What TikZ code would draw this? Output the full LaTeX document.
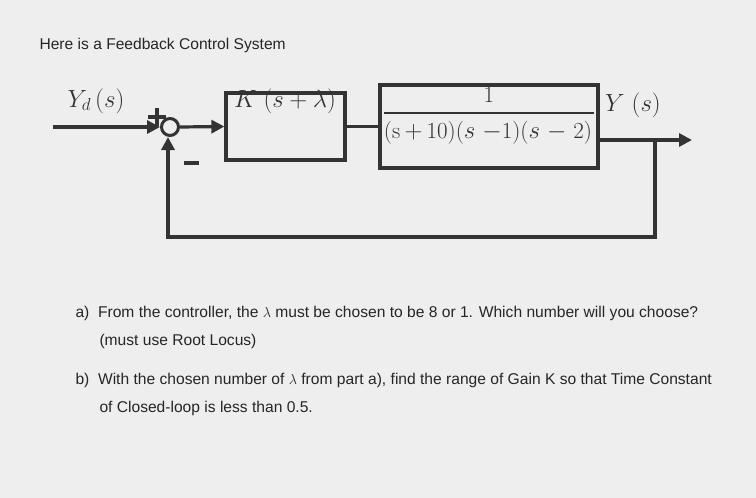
\documentclass[tikz,border=0pt]{standalone}
\usepackage{fontspec}
\setsansfont{Liberation Sans}
\usetikzlibrary{arrows.meta}
\tikzset{blk/.style={draw,line width=3.2pt,inner sep=0pt,draw=black!80},
 ln/.style={line width=3.2pt,draw=black!80},
 arr/.style={ln,-{Triangle[length=13pt,width=13pt]}},
 mt/.style={font=\fontsize{23}{24}\selectfont,text=black!80},
 txt/.style={anchor=west,font=\sffamily\fontsize{15.6}{18}\selectfont,text=black!85}}
\begin{document}
\begin{tikzpicture}[x=1pt,y=-1pt]
\fill[gray!13] (0,0) rectangle (756,498);
\useasboundingbox (0,0) rectangle (756,498);
\node[txt] (title) at (36,45) {Here is a Feedback Control System};
\coordinate (in) at (53,127);
\node[draw=black!80,circle,line width=3pt,minimum size=17pt,inner sep=0pt] (sum) at (170,127) {};
\node[blk,minimum width=119pt,minimum height=67pt] (b1) at (285.5,126.5) {};
\node[mt] (k) at (285,101) {$K\ (s+\lambda)$};
\node[blk,minimum width=218pt,minimum height=83pt] (b2) at (489,126.5) {};
\node[mt] (num) at (489,95) {1};
\draw[line width=1.2pt,black!80] (384,113) -- (594,113);
\node[mt] (den) at (488,133) {(s$\,+\,$10)($s$ $-$1)($s$ $-$ 2)};
\node[mt] (yd) at (96,101) {$Y_d\,(s)$};
\node[mt] (y) at (633,105) {$Y\ (s)$};
\coordinate (plus) at (157,117);
\draw[ln] ([xshift=-9pt]plus) -- ([xshift=9pt]plus) ([yshift=-9pt]plus) -- ([yshift=9pt]plus);
\draw[ln] (184,163) -- (199,163);
\coordinate (out) at (692,140);
\coordinate (tap) at (655,140);
\coordinate (c1) at (655,237);
\coordinate (c2) at (168,237);
\draw[arr] (in) -- (sum.west);
\draw[arr] (sum.east) -- (b1.west);
\draw[ln] (b1.east) -- (b2.west);
\draw[arr] (b2.east |- out) -- (out);
\draw[arr] (tap) -- (c1) -- (c2) -- (c2 |- sum.south);
\node[txt] (qa) at (72,313) {a)\ \ From the controller, the $\lambda$ must be chosen to be 8 or 1. Which number will you choose?};
\node[txt] (qa2) at (96,341) {(must use Root Locus)};
\node[txt] (qb) at (72,380) {b)\ \ With the chosen number of $\lambda$ from part a), find the range of Gain K so that Time Constant};
\node[txt] (qb2) at (96,408) {of Closed-loop is less than 0.5.};
\end{tikzpicture}
\end{document}
